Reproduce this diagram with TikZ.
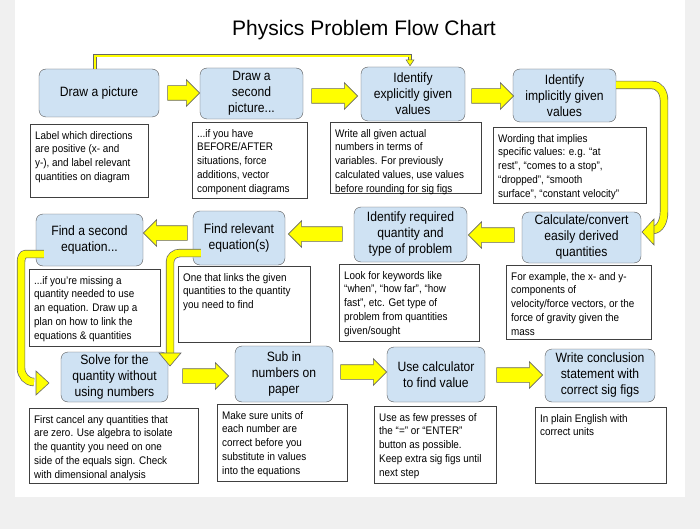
\documentclass[tikz,border=0pt]{standalone}
\usepackage{fontspec}
\setmainfont{Liberation Sans}
\newfontfamily\cond{Liberation Sans}[FakeStretch=0.9]
\usetikzlibrary{shapes.arrows,calc}
\definecolor{boxblue}{HTML}{CFE2F3}
\definecolor{ylw}{HTML}{FFFF00}
\tikzset{
 stp/.style={draw=black!65, fill=boxblue, rounded corners=7pt, align=center, font=\cond\fontsize{13.5}{16}\selectfont, inner sep=2pt},
 notebox/.style={draw=black!75, fill=white, line width=0.6pt},
 notetext/.style={anchor=north west, align=left, font=\cond\fontsize{11}{13.8}\selectfont, inner sep=0pt},
 barrow/.style={single arrow, draw=black!60, fill=ylw, text height=7pt, text depth=7pt, single arrow head extend=6pt, single arrow tip angle=90, inner sep=0pt, line width=0.6pt},
 bendc/.style={draw=black!60, double=ylw, double distance=7pt, line width=0.7pt},
 thinc/.style={draw=black!60, double=ylw, double distance=2pt, line width=0.6pt},
}
\newcommand{\stepbox}[6]{\node[stp, minimum width=#4-#2, minimum height=#5-#3] (#1) at ({(#2+#4)/2},{(#3+#5)/2}) {#6};}
\newcommand{\notebx}[6]{\node[notebox, minimum width=#4-#2, minimum height=#5-#3, inner sep=0pt] (#1) at ({(#2+#4)/2},{(#3+#5)/2}) {};
 \node[notetext] at (#2+5,#3+7) {#6};}
\begin{document}
\begin{tikzpicture}[x=1pt,y=-1pt]
\fill[black!6] (0,0) rectangle (700,529);
\fill[white] (15,0) rectangle (685,497);
\useasboundingbox (0,0) rectangle (700,529);
\node[font=\fontsize{21}{24}\selectfont] (title) at (364,30) {Physics Problem Flow Chart};
% row 1
\stepbox{A}{39}{69}{159}{117}{Draw a picture}
\stepbox{B}{200}{68}{303}{119}{Draw a\\second\\picture...}
\stepbox{C}{361}{67}{465}{121}{Identify\\explicitly given\\values}
\stepbox{D}{513}{69}{616}{122}{Identify\\implicitly given\\values}
\notebx{nA}{30}{124}{148}{197}{Label which directions\\are positive (x- and\\y-), and label relevant\\quantities on diagram}
\notebx{nB}{192}{122}{307}{198}{...if you have\\BEFORE/AFTER\\situations, force\\additions, vector\\component diagrams}
\notebx{nC}{330}{122}{481}{193}{Write all given actual\\numbers in terms of\\variables. For previously\\calculated values, use values\\before rounding for sig figs}
\notebx{nD}{493}{127}{646}{203}{Wording that implies\\specific values: e.g. “at\\rest”, “comes to a stop”,\\“dropped”, “smooth\\surface”, “constant velocity”}
% row 2
\stepbox{E}{36}{214}{143}{266}{Find a second\\equation...}
\stepbox{F}{193}{211}{285}{265}{Find relevant\\equation(s)}
\stepbox{G}{354}{207}{467}{262}{Identify required\\quantity and\\type of problem}
\stepbox{H}{522}{212}{641}{263}{Calculate/convert\\easily derived\\quantities}
\notebx{nE}{29}{269}{160}{346}{...if you’re missing a\\quantity needed to use\\an equation. Draw up a\\plan on how to link the\\equations \& quantities}
\notebx{nF}{178}{266}{310}{342}{One that links the given\\quantities to the quantity\\you need to find}
\notebx{nG}{339}{264}{479}{341}{Look for keywords like\\“when”, “how far”, “how\\fast”, etc. Get type of\\problem from quantities\\given/sought}
\notebx{nH}{506}{265}{651}{339}{For example, the x- and y-\\components of\\velocity/force vectors, or the\\force of gravity given the\\mass}
% row 3
\stepbox{I}{61}{352}{168}{402}{Solve for the\\quantity without\\using numbers}
\stepbox{J}{235}{346}{333}{402}{Sub in\\numbers on\\paper}
\stepbox{K}{387}{347}{485}{402}{Use calculator\\to find value}
\stepbox{L}{545}{349}{655}{402}{Write conclusion\\statement with\\correct sig figs}
\notebx{nI}{29}{408}{198}{483}{First cancel any quantities that\\are zero. Use algebra to isolate\\the quantity you need on one\\side of the equals sign. Check\\with dimensional analysis}
\notebx{nJ}{217}{404}{347}{481}{Make sure units of\\each number are\\correct before you\\substitute in values\\into the equations}
\notebx{nK}{374}{406}{496}{483}{Use as few presses of\\the “=” or “ENTER”\\button as possible.\\Keep extra sig figs until\\next step}
\notebx{nL}{535}{407}{666}{483}{In plain English with\\correct units}
% block arrows
\node[barrow, minimum height=32pt] (a1) at (180,93) {};
\node[barrow, minimum height=46pt] (a2) at (331,96) {};
\node[barrow, minimum height=42pt] (a3) at (489,96) {};
\node[barrow, minimum height=44pt, shape border rotate=180] (a4) at (169,233) {};
\node[barrow, minimum height=54pt, shape border rotate=180] (a5) at (319,234) {};
\node[barrow, minimum height=46pt, shape border rotate=180] (a6) at (495,235) {};
\node[barrow, minimum height=46pt] (a7) at (202,376) {};
\node[barrow, minimum height=46pt] (a8) at (360,372) {};
\node[barrow, minimum height=46pt] (a9) at (516,375) {};
% top thin connector A -> C
\coordinate (t1) at ($(A.north)+(-4,0)$);
\draw[thinc] (t1) -- ++(0,-13) -| ($(C.north)+(-3,-6)$);
\fill[ylw, draw=black!60, line width=0.5pt] ($(C.north)+(-7,-7)$) -- ($(C.north)+(1,-7)$) -- ($(C.north)+(-3,-1)$) -- cycle;
% big right curve D -> H
\draw[bendc] (D.east |- 0,85) -- (652,85) to[out=0,in=90] (664,100) -- (664,212) to[out=-90,in=0] (652,230);
\fill[ylw, draw=black!60, line width=0.6pt] (654,219) -- (654,245) -- (642,232) -- cycle;
% E -> I
\draw[bendc] ($(E.west)+(8,14)$) -- (26,254) to[out=180,in=90] (21,262) -- (21,368) to[out=-90,in=180] (34,382);
\fill[ylw, draw=black!60, line width=0.6pt] (36,371) -- (36,395) -- (49,383) -- cycle;
% F -> I
\draw[bendc] ($(F.west)+(8,15)$) -- (180,253) to[out=180,in=90] (170,262) -- (170,354);
\fill[ylw, draw=black!60, line width=0.6pt] (159,353) -- (181,353) -- (170,366) -- cycle;
\end{tikzpicture}
\end{document}
